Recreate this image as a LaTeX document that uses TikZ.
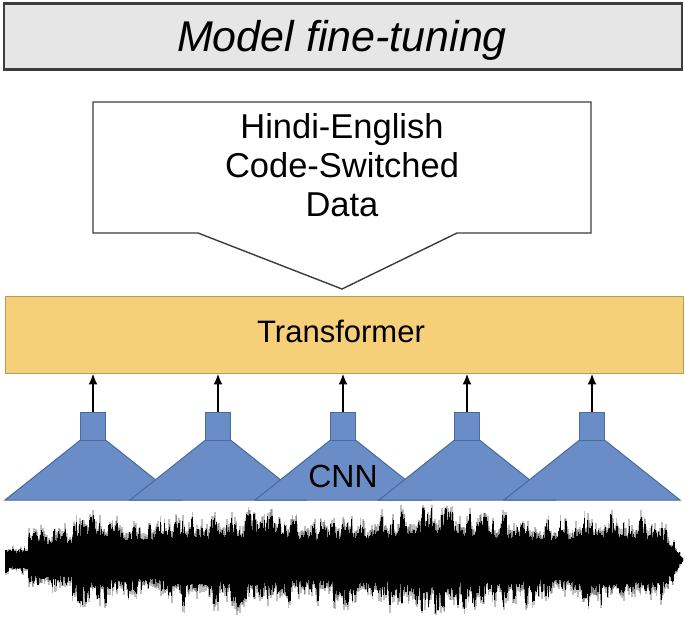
\documentclass[tikz,border=0pt]{standalone}
\usepackage{fontspec}
\setmainfont{Liberation Sans}
\usetikzlibrary{arrows.meta}
\definecolor{boxgray}{HTML}{E6E6E6}
\definecolor{boxedge}{HTML}{3C3C3C}
\definecolor{tfill}{HTML}{F6CF79}
\definecolor{tedge}{HTML}{B89A5A}
\definecolor{cnnfill}{HTML}{6A8DC8}
\definecolor{cnnedge}{HTML}{4A6A9C}
\tikzset{
  titlebox/.style={draw=boxedge, line width=2.2pt, fill=boxgray, inner sep=0pt,
    minimum width=678pt, minimum height=66pt},
  callout/.style={draw=boxedge, line width=1.4pt, fill=white, line join=miter},
  calltext/.style={font=\fontsize{34.5}{39}\selectfont, anchor=base, inner sep=0pt},
  tbox/.style={draw=tedge, line width=0.8pt, fill=tfill, inner sep=0pt,
    minimum width=678pt, minimum height=77pt},
  tlabel/.style={font=\fontsize{31}{34}\selectfont, anchor=base, inner sep=0pt},
  cnnshape/.style={draw=cnnedge, line width=1pt, fill=cnnfill, line join=miter},
  cnnsq/.style={cnnshape, inner sep=0pt, minimum width=25pt, minimum height=28pt},
  upar/.style={line width=2.4pt, -{Latex[length=11pt,width=9pt]}},
  wave/.style={line width=1.1pt, black},
  wavetip/.style={line width=1.8pt, black, opacity=0.25}
}
\begin{document}
\begin{tikzpicture}[x=1pt,y=-1pt]
\useasboundingbox (0,0) rectangle (685,619);
% title
\node[titlebox] (title) at (343,36.5) {};
\node[tlabel, font=\fontsize{43}{48}\selectfont\itshape] (titletext) at (342,51) {Model fine-tuning};
% callout
\draw[callout] (93,102) -- (591,102) -- (591,233) -- (457,233) -- (342,289) -- (198,233) -- (93,233) -- cycle;
\node[calltext] (l1) at (342,138) {Hindi-English};
\node[calltext] (l2) at (342,177) {Code-Switched};
\node[calltext] (l3) at (342,216) {Data};
% transformer
\node[tbox] (tr) at (344,334.5) {};
\node[tlabel] (trtext) at (341,342) {Transformer};
% CNN units
\foreach \k/\xc in {1/93,2/218,3/343,4/467,5/592}{
  \draw[cnnshape] (\xc-12.5,440) -- (\xc+12.5,440) -- (\xc+88,500) -- (\xc-88,500) -- cycle;
  \node[cnnsq] (s\k) at (\xc,426) {};
  \draw[upar] (s\k.north) -- (s\k.north |- tr.south);
}
\node[tlabel, font=\fontsize{32}{34}\selectfont] (cnn) at (343,487) {CNN};
% waveform
\pgfmathsetseed{11}
\xdef\va{0.5}\xdef\vb{0.5}
\foreach \i in {0,...,846}{
  \pgfmathsetmacro{\xx}{6+0.8*\i}
  \pgfmathsetmacro{\bump}{6*max(0,1-abs(\xx-440)/120)}
  \pgfmathsetmacro{\wmid}{41 + 3*sin(\xx*1.9) + 2*sin(\xx*4.3+40) + \bump}
  \pgfmathsetmacro{\wtail}{(41/22)*min(22,max(0,683-\xx)) + 2}
  \pgfmathsetmacro{\env}{(\xx<28) ? 14 : ((\xx<72) ? 31 : ((\xx<661) ? \wmid : \wtail))}
  \pgfmathsetmacro{\na}{0.6*\va + 0.4*rnd}
  \pgfmathsetmacro{\nb}{0.6*\vb + 0.4*rnd}
  \xdef\va{\na}\xdef\vb{\nb}
  \pgfmathsetmacro{\sa}{min(1,max(0,(\na-0.25)/0.5))}
  \pgfmathsetmacro{\sb}{min(1,max(0,(\nb-0.25)/0.5))}
  \pgfmathsetmacro{\up}{min(52,\env*(0.5 + 0.48*\sa*\sa + 0.08*rnd))}
  \pgfmathsetmacro{\dn}{min(55,\env*(0.5 + 0.52*\sb*\sb + 0.08*rnd))}
  \pgfmathsetmacro{\ut}{min(55,\up+\env*0.2*rnd)}
  \pgfmathsetmacro{\dt}{min(58,\dn+\env*0.2*rnd)}
  \draw[wavetip] (\xx,560-\ut) -- (\xx,560+\dt);
  \draw[wave] (\xx,560-\up) -- (\xx,560+\dn);
}
\end{tikzpicture}
\end{document}
